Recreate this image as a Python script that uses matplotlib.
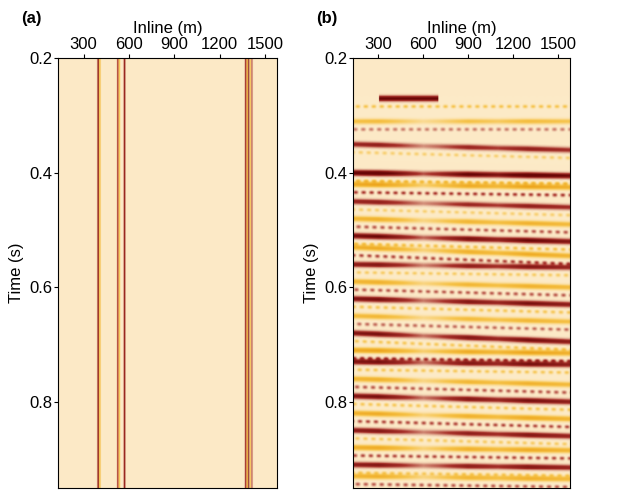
import numpy as np
import matplotlib
matplotlib.use("Agg")
import matplotlib.pyplot as plt
from matplotlib.colors import LinearSegmentedColormap

plt.rcParams["font.family"] = "Liberation Sans"

# ---- data ----
x_ticks = [300, 600, 900, 1200, 1500]
y_ticks = [0.2, 0.4, 0.6, 0.8]
x_range = [130, 1580]
t_range = [0.2, 0.95]

# panel (a): vertical streak positions (m) and amplitude
streak_x = [395, 405, 525, 535, 570, 1375, 1385, 1395, 1405, 1415]
streak_amp = [0.9, -0.8, 0.6, -0.6, 0.8, 0.7, -0.9, 1.0, -0.8, 0.5]

# panel (b): horizons (time at left edge, time at right edge, amplitude)
hor_t_left = [0.27, 0.31, 0.35, 0.40, 0.42, 0.45, 0.48, 0.51, 0.53, 0.56, 0.59, 0.62,
              0.65, 0.68, 0.71, 0.73, 0.76, 0.79, 0.82, 0.85, 0.88, 0.91, 0.93]
hor_t_right = [0.27, 0.31, 0.36, 0.405, 0.425, 0.46, 0.49, 0.52, 0.545, 0.565, 0.60, 0.63,
               0.66, 0.695, 0.715, 0.735, 0.77, 0.80, 0.83, 0.86, 0.885, 0.915, 0.935]
hor_amp = [1.0, -0.6, 0.7, 1.2, -1.0, 0.7, -0.8, 1.0, -0.9, 0.8, -0.8, 0.9,
           -0.7, 0.9, -1.0, 0.9, -0.8, 0.9, -0.9, 0.8, -0.9, 0.8, -0.8]
# lateral amplitude profile (control points)
prof_x = [130, 300, 450, 600, 700, 900, 1100, 1300, 1580]
prof_w = [0.9, 1.0, 0.7, 0.35, 0.5, 0.9, 0.7, 1.0, 0.8]
# first horizon only present from 300 to 700 m
first_hor_span = [300, 700]

cmap = LinearSegmentedColormap.from_list(
    "seis", ["#eda51c", "#f6c34a", "#fdebc8", "#a8312a", "#6a0606"])

nx, nt = 300, 500
xs = np.linspace(*x_range, nx)
ts = np.linspace(*t_range, nt)
X, T = np.meshgrid(xs, ts)

A = np.zeros_like(X)
for sx, a in zip(streak_x, streak_amp):
    A += a * np.exp(-((X - sx) / 5.0) ** 2)

W = np.interp(X, prof_x, prof_w)
B = np.zeros_like(X)
for i, (tl, tr, a) in enumerate(zip(hor_t_left, hor_t_right, hor_amp)):
    tc = tl + (tr - tl) * (X - x_range[0]) / (x_range[1] - x_range[0])
    w = W.copy()
    if i == 0:
        w = np.where((X > first_hor_span[0]) & (X < first_hor_span[1]), 1.0, 0.0)
    B += a * w * np.exp(-((T - tc) / 0.0045) ** 2)
    tc2 = tc + 0.014
    B += -0.5 * a * np.exp(-((T - tc2) / 0.003) ** 2) * np.cos(X / 17.0 + i) ** 2

fig = plt.figure(figsize=(6.25, 5.04), dpi=100)
axa = fig.add_axes([58/625, 1-488/504, 219/625, 430/504])
axb = fig.add_axes([353/625, 1-488/504, 217/625, 430/504])
ext = [x_range[0], x_range[1], t_range[1], t_range[0]]
for ax, D, lab in [(axa, A, "(a)"), (axb, B, "(b)")]:
    ax.imshow(D, cmap=cmap, vmin=-1, vmax=1, extent=ext, aspect="auto",
              interpolation="bilinear")
    ax.xaxis.tick_top()
    ax.xaxis.set_label_position("top")
    ax.set_xticks(x_ticks)
    ax.set_yticks(y_ticks)
    ax.set_yticklabels([f"{v:.1f}" for v in y_ticks])
    ax.set_xlabel("Inline (m)", fontsize=12, labelpad=3)
    ax.set_ylabel("Time (s)", fontsize=12)
    ax.tick_params(labelsize=12, direction="out", length=3, pad=1)
    ax.text(-0.17, 1.075, lab, transform=ax.transAxes, fontsize=12,
            fontweight="bold", ha="left", va="bottom")

fig.savefig("out.png", dpi=100)
